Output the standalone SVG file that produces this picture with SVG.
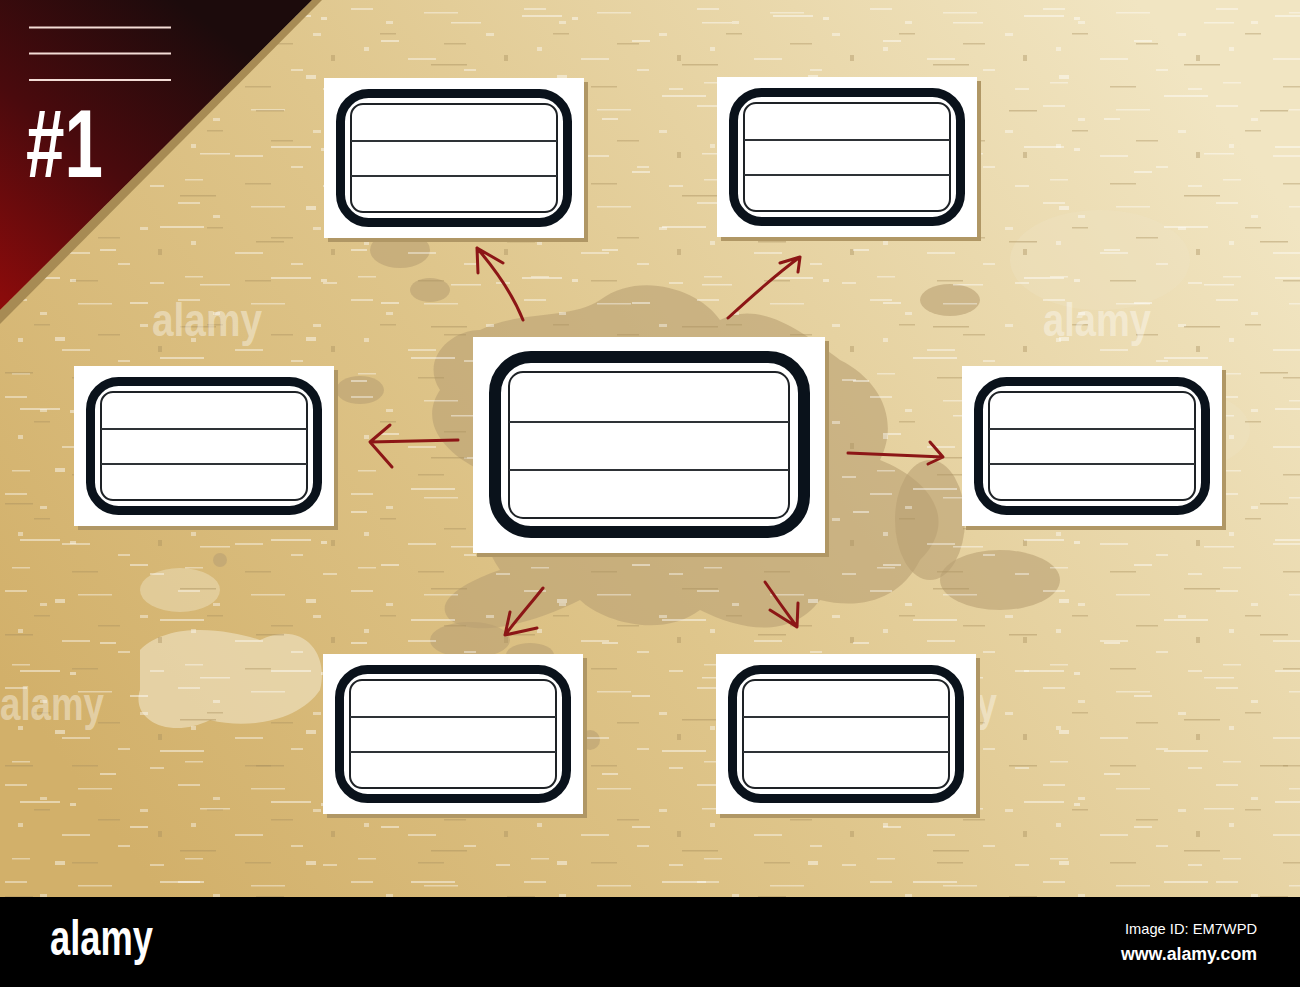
<svg xmlns="http://www.w3.org/2000/svg" width="1300" height="987" viewBox="0 0 1300 987">
<defs>
  <linearGradient id="bg" x1="0" y1="0.75" x2="1" y2="0.25">
    <stop offset="0" stop-color="#d2b06a"/>
    <stop offset="0.45" stop-color="#dfc68c"/>
    <stop offset="1" stop-color="#f1e5c2"/>
  </linearGradient>
  <linearGradient id="tri" x1="0" y1="1" x2="0.7" y2="0.1">
    <stop offset="0" stop-color="#8e0b0b"/>
    <stop offset="0.5" stop-color="#4a0a0d"/>
    <stop offset="1" stop-color="#1c0b0c"/>
  </linearGradient>
  <pattern id="scratch" width="173" height="97" patternUnits="userSpaceOnUse">
    <rect x="5" y="8" width="22" height="2" fill="#fff"/>
    <rect x="40" y="21" width="7" height="3" fill="#fff"/>
    <rect x="78" y="12" width="34" height="1.5" fill="#fff"/>
    <rect x="140" y="33" width="8" height="3" fill="#fff"/>
    <rect x="18" y="47" width="5" height="4" fill="#fff"/>
    <rect x="62" y="58" width="28" height="2" fill="#fff"/>
    <rect x="118" y="69" width="12" height="2" fill="#fff"/>
    <rect x="12" y="82" width="18" height="1.5" fill="#fff"/>
    <rect x="150" y="88" width="14" height="2" fill="#fff"/>
    <rect x="34" y="33" width="16" height="1.5" fill="#a88f5e"/>
    <rect x="98" y="43" width="22" height="1.5" fill="#a88f5e"/>
    <rect x="72" y="86" width="26" height="1.5" fill="#a88f5e"/>
    <rect x="158" y="55" width="4" height="6" fill="#a88f5e"/>
  </pattern>
  <pattern id="scratch2" width="251" height="131" patternUnits="userSpaceOnUse">
    <rect x="20" y="15" width="40" height="2" fill="#fff"/>
    <rect x="70" y="17" width="6" height="3" fill="#fff"/>
    <rect x="130" y="40" width="18" height="2" fill="#fff"/>
    <rect x="200" y="22" width="30" height="1.5" fill="#fff"/>
    <rect x="55" y="75" width="10" height="4" fill="#fff"/>
    <rect x="160" y="95" width="44" height="2" fill="#fff"/>
    <rect x="100" y="118" width="16" height="2" fill="#fff"/>
    <rect x="5" y="110" width="28" height="1.5" fill="#a88f5e"/>
    <rect x="180" y="64" width="36" height="1.5" fill="#a88f5e"/>
  </pattern>
  <style>
    .card-shadow { fill: #b09765; }
    .card { fill: #ffffff; }
    .frame { fill: #ffffff; stroke: #0a121b; }
    .inner { fill: #ffffff; stroke: #1e2226; stroke-width: 2; }
    .rule { stroke: #2e3236; stroke-width: 2; }
    .arrow { fill: none; stroke: #8c1616; stroke-width: 3; stroke-linecap: round; stroke-linejoin: round; }
    .wm { font-family: "Liberation Sans", Arial, sans-serif; font-weight: bold; fill: #ffffff; fill-opacity: 0.4; }
  </style>
  <g id="small-card">
    <rect class="card-shadow" x="4" y="4" width="260" height="160"/>
    <rect class="card" x="0" y="0" width="260" height="160"/>
    <rect class="frame" x="16.5" y="15.5" width="227" height="129" rx="28" stroke-width="9"/>
    <rect class="inner" x="27" y="26" width="206" height="108" rx="12"/>
    <line class="rule" x1="27" y1="63" x2="233" y2="63"/>
    <line class="rule" x1="27" y1="98" x2="233" y2="98"/>
  </g>
</defs>

<!-- background -->
<rect x="0" y="0" width="1300" height="900" fill="url(#bg)"/>
<g id="grunge" fill="#b9a073" fill-opacity="0.6">
  <path d="M600 300 C640 270 700 290 720 320 C760 300 800 330 840 360 C880 380 900 420 880 460 C930 480 960 520 920 560 C900 600 860 610 820 600 C790 640 740 630 700 610 C660 640 600 620 580 600 C540 620 480 640 450 620 C430 600 470 580 500 570 C480 540 470 500 480 470 C440 450 420 420 440 390 C420 360 450 330 480 330 C520 310 570 320 600 300 Z"/>
  <ellipse cx="400" cy="250" rx="30" ry="18"/>
  <ellipse cx="430" cy="290" rx="20" ry="12"/>
  <ellipse cx="470" cy="640" rx="40" ry="18"/>
  <ellipse cx="530" cy="655" rx="24" ry="12"/>
  <ellipse cx="930" cy="520" rx="35" ry="60"/>
  <ellipse cx="1000" cy="580" rx="60" ry="30"/>
  <ellipse cx="360" cy="390" rx="24" ry="14"/>
  <ellipse cx="950" cy="300" rx="30" ry="16"/>
  <circle cx="590" cy="740" r="10"/>
  <circle cx="220" cy="560" r="7"/>
</g>
<g id="grunge-light" fill="#f0e4c6" fill-opacity="0.6">
  <path d="M140 650 C170 620 230 630 260 640 C300 620 330 650 320 690 C300 720 250 730 210 720 C170 740 130 720 140 690 Z"/>
  <ellipse cx="1100" cy="260" rx="90" ry="50" fill-opacity="0.3"/>
  <ellipse cx="1180" cy="430" rx="70" ry="40" fill-opacity="0.3"/>
  <ellipse cx="180" cy="590" rx="40" ry="22" fill-opacity="0.45"/>
</g>
<rect x="0" y="0" width="1300" height="900" fill="url(#scratch)" opacity="0.4"/>
<rect x="0" y="0" width="1300" height="900" fill="url(#scratch2)" opacity="0.45"/>

<!-- watermarks -->
<g id="watermarks">
  <text class="wm" x="152" y="336" font-size="46" textLength="110" lengthAdjust="spacingAndGlyphs">alamy</text>
  <text class="wm" x="1043" y="336" font-size="46" textLength="108" lengthAdjust="spacingAndGlyphs">alamy</text>
  <text class="wm" x="0" y="720" font-size="46" textLength="104" lengthAdjust="spacingAndGlyphs">alamy</text>
  <text class="wm" x="893" y="720" font-size="46" textLength="104" lengthAdjust="spacingAndGlyphs">alamy</text>
  <text class="wm" x="192" y="66" font-size="24">a</text>
</g>

<!-- corner badge -->
<g id="badge">
  <polygon points="312,0 322,0 0,324 0,310" fill="#a78b54"/>
  <polygon points="0,0 312,0 0,310" fill="url(#tri)"/>
  <g stroke="#f3dcd6" stroke-width="2">
    <line x1="29" y1="27.5" x2="171" y2="27.5"/>
    <line x1="29" y1="53.5" x2="171" y2="53.5"/>
    <line x1="29" y1="80" x2="171" y2="80"/>
  </g>
  <text x="26" y="177" font-family="Liberation Sans, Arial, sans-serif" font-weight="bold" font-size="96" fill="#ffffff" textLength="77" lengthAdjust="spacingAndGlyphs">#1</text>
</g>

<!-- connectors -->
<g id="connectors" class="arrow">
  <path d="M523 320 C515 300 500 275 477 248 M477 248 L478 273 M477 248 L503 263"/>
  <path d="M728 318 C752 296 775 275 800 257 M800 257 L798 272 M800 257 L780 263"/>
  <path d="M458 440 L370 442 M370 442 L390 425 M370 442 L392 467"/>
  <path d="M848 453 L943 457 M943 457 L930 442 M943 457 L928 464"/>
  <path d="M543 588 C532 602 518 618 505 635 M505 635 L510 612 M505 635 L537 628"/>
  <path d="M765 582 C776 598 786 612 797 627 M797 627 L770 610 M797 627 L798 603"/>
</g>

<!-- nodes -->
<g id="node-top-left"><use href="#small-card" x="324" y="78"/></g>
<g id="node-top-right"><use href="#small-card" x="717" y="77"/></g>
<g id="node-left"><use href="#small-card" x="74" y="366"/></g>
<g id="node-right"><use href="#small-card" x="962" y="366"/></g>
<g id="node-bottom-left"><use href="#small-card" x="323" y="654"/></g>
<g id="node-bottom-right"><use href="#small-card" x="716" y="654"/></g>
<g id="node-center">
  <rect class="card-shadow" x="477" y="341" width="352" height="216"/>
  <rect class="card" x="473" y="337" width="352" height="216"/>
  <rect class="frame" x="495" y="357" width="309" height="175" rx="36" stroke-width="12"/>
  <rect class="inner" x="509" y="372" width="280" height="146" rx="14"/>
  <line class="rule" x1="509" y1="422" x2="789" y2="422"/>
  <line class="rule" x1="509" y1="470" x2="789" y2="470"/>
</g>

<!-- footer -->
<g id="footer">
  <rect x="0" y="897" width="1300" height="90" fill="#000000"/>
  <text x="50" y="955" font-family="Liberation Sans, Arial, sans-serif" font-weight="bold" font-size="50" fill="#ffffff" textLength="103" lengthAdjust="spacingAndGlyphs">alamy</text>
  <text x="1125" y="934" font-family="Liberation Sans, Arial, sans-serif" font-size="15" fill="#ffffff" textLength="132" lengthAdjust="spacingAndGlyphs">Image ID: EM7WPD</text>
  <text x="1121" y="960" font-family="Liberation Sans, Arial, sans-serif" font-weight="bold" font-size="18" fill="#ffffff" textLength="136" lengthAdjust="spacingAndGlyphs">www.alamy.com</text>
</g>
</svg>
